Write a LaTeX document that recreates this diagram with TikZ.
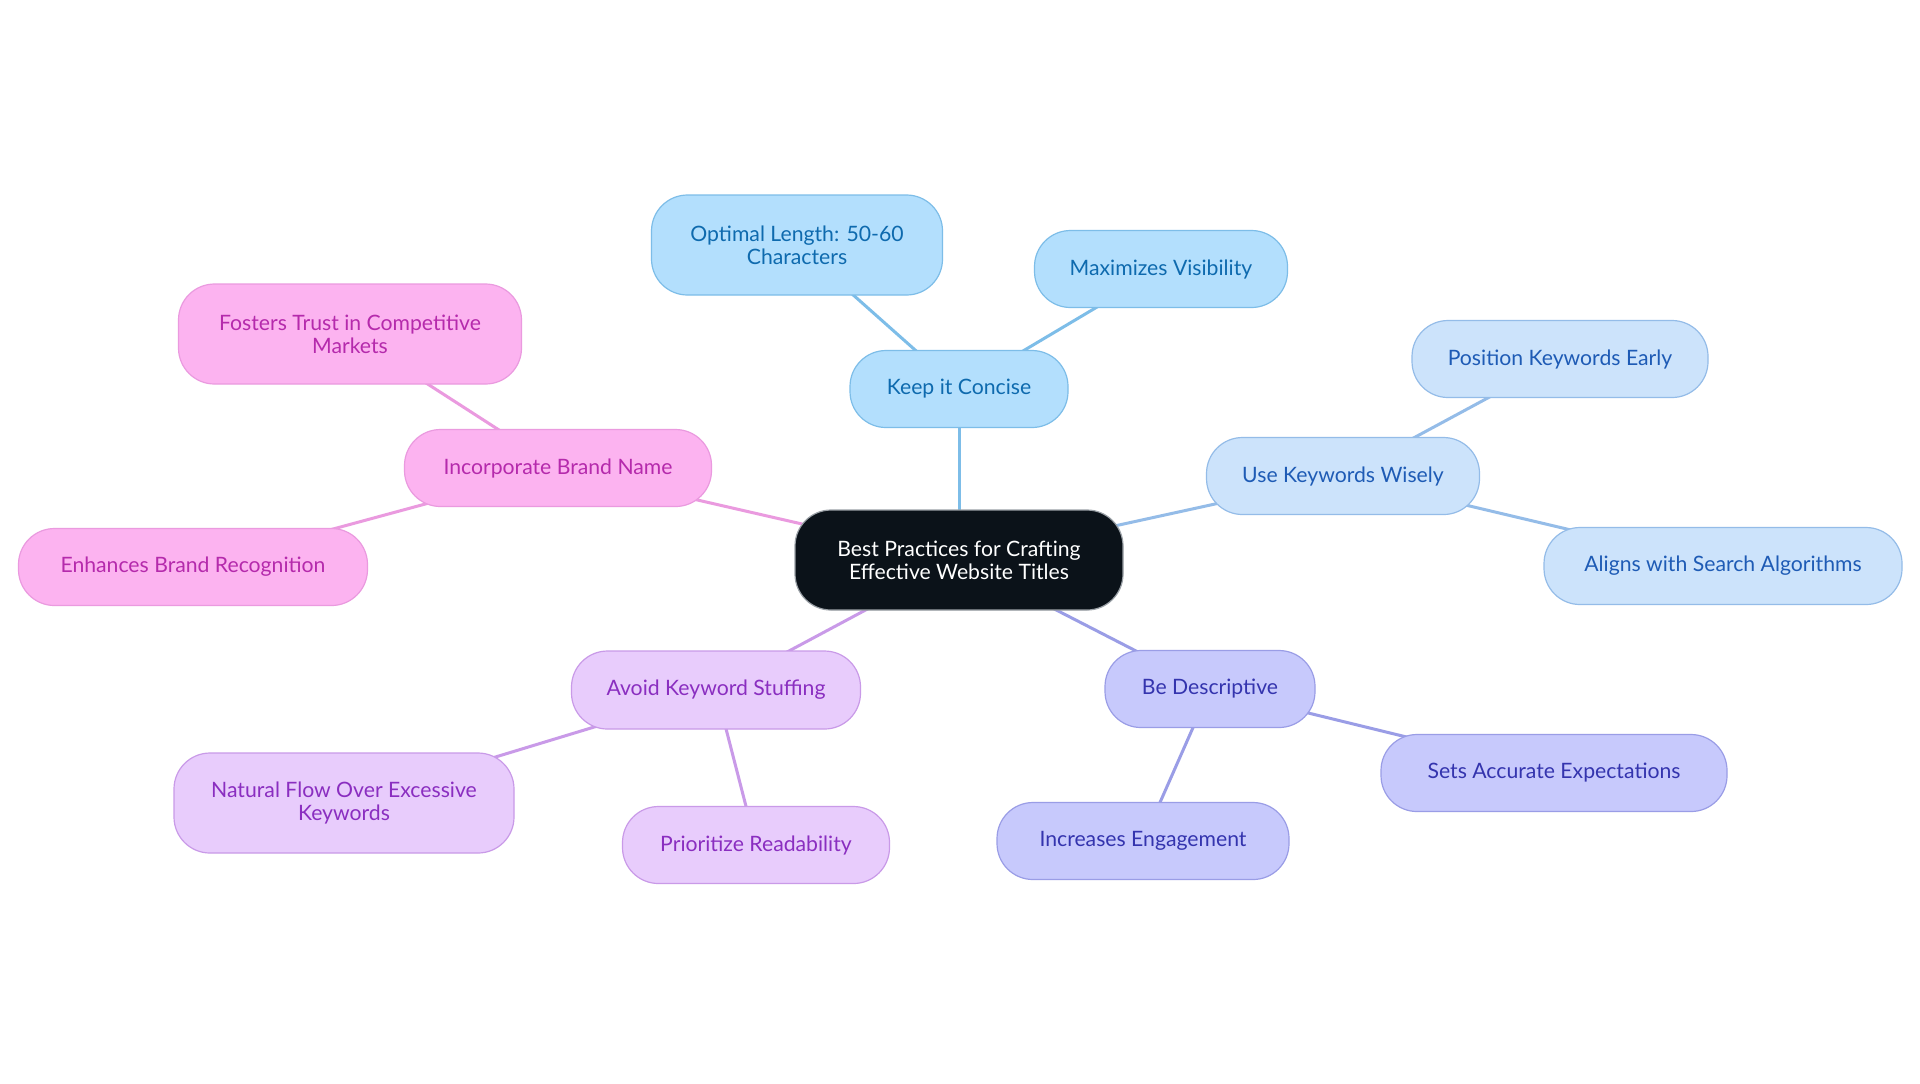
\documentclass[tikz,border=0pt]{standalone}
\usepackage{fontspec}
\setmainfont{Lato}
\usetikzlibrary{backgrounds}
\definecolor{cfill}{HTML}{0B1219}
\definecolor{cborder}{HTML}{9AA0A6}
\definecolor{afill}{HTML}{B3DFFD}\definecolor{aline}{HTML}{7DBDE8}\definecolor{atext}{HTML}{0E6AAE}
\definecolor{bfill}{HTML}{CCE3FB}\definecolor{bline}{HTML}{94BCE8}\definecolor{btext}{HTML}{1E5BB5}
\definecolor{dfill}{HTML}{C7C9FC}\definecolor{dline}{HTML}{9A9DE6}\definecolor{dtext}{HTML}{3434AE}
\definecolor{efill}{HTML}{E8CCFC}\definecolor{eline}{HTML}{C99AE8}\definecolor{etext}{HTML}{8A2EC0}
\definecolor{ffill}{HTML}{FCB3F0}\definecolor{fline}{HTML}{EA9ADF}\definecolor{ftext}{HTML}{B52AAC}
\tikzset{
  box/.style={rounded corners=18pt, align=center, inner sep=0pt, font=\fontsize{10.6}{11.5}\selectfont, line width=0.6pt},
  grpA/.style={box, fill=afill, draw=aline, text=atext},
  grpB/.style={box, fill=bfill, draw=bline, text=btext},
  grpD/.style={box, fill=dfill, draw=dline, text=dtext},
  grpE/.style={box, fill=efill, draw=eline, text=etext},
  grpF/.style={box, fill=ffill, draw=fline, text=ftext},
  conn/.style={line width=1.5pt},
}
\begin{document}
\begin{tikzpicture}[x=0.5pt,y=-0.5pt]
\useasboundingbox (0,0) rectangle (1920,1083);
\node[box, fill=cfill, draw=cborder, text=white, minimum width=164pt, minimum height=50pt] (c) at (959,560) {Best Practices for Crafting\\Effective Website Titles};
% group A
\node[grpA, minimum width=109pt, minimum height=38.5pt] (a) at (959,389) {Keep it Concise};
\node[grpA, minimum width=145.5pt, minimum height=50pt] (a1) at (797,245) {Optimal Length: 50-60\\Characters};
\node[grpA, minimum width=126.5pt, minimum height=38.5pt] (a2) at (1161,269) {Maximizes Visibility};
% group B
\node[grpB, minimum width=136.5pt, minimum height=38.5pt] (b) at (1343,476) {Use Keywords Wisely};
\node[grpB, minimum width=148pt, minimum height=38.5pt] (b1) at (1560,359) {Position Keywords Early};
\node[grpB, minimum width=179pt, minimum height=38.5pt] (b2) at (1723,566) {Aligns with Search Algorithms};
% group D
\node[grpD, minimum width=105pt, minimum height=38.5pt] (d) at (1210,689) {Be Descriptive};
\node[grpD, minimum width=173pt, minimum height=38.5pt] (d1) at (1554,773) {Sets Accurate Expectations};
\node[grpD, minimum width=146pt, minimum height=38.5pt] (d2) at (1143,841) {Increases Engagement};
% group E
\node[grpE, minimum width=144.5pt, minimum height=39pt] (e) at (716,690) {Avoid Keyword Stuffing};
\node[grpE, minimum width=170pt, minimum height=50pt] (e1) at (344,803) {Natural Flow Over Excessive\\Keywords};
\node[grpE, minimum width=133.5pt, minimum height=38.5pt] (e2) at (756,845) {Prioritize Readability};
% group F
\node[grpF, minimum width=153.5pt, minimum height=38.5pt] (f) at (558,468) {Incorporate Brand Name};
\node[grpF, minimum width=171.5pt, minimum height=50pt] (f1) at (350,334) {Fosters Trust in Competitive\\Markets};
\node[grpF, minimum width=174.5pt, minimum height=38.5pt] (f2) at (193,567) {Enhances Brand Recognition};
\begin{scope}[on background layer]
\fill[white] (0,0) rectangle (1920,1083);
\draw[conn, aline] (c.center) -- (a.center);
\draw[conn, aline] (a.center) -- (a1.center);
\draw[conn, aline] (a.center) -- (a2.center);
\draw[conn, bline] (c.center) -- (b.center);
\draw[conn, bline] (b.center) -- (b1.center);
\draw[conn, bline] (b.center) -- (b2.center);
\draw[conn, dline] (c.center) -- (d.center);
\draw[conn, dline] (d.center) -- (d1.center);
\draw[conn, dline] (d.center) -- (d2.center);
\draw[conn, eline] (c.center) -- (e.center);
\draw[conn, eline] (e.center) -- (e1.center);
\draw[conn, eline] (e.center) -- (e2.center);
\draw[conn, fline] (c.center) -- (f.center);
\draw[conn, fline] (f.center) -- (f1.center);
\draw[conn, fline] (f.center) -- (f2.center);
\end{scope}
\end{tikzpicture}
\end{document}
